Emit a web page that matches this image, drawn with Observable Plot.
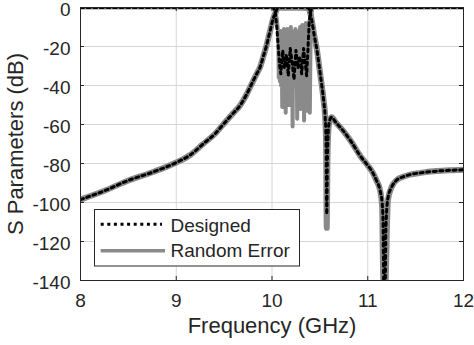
<!DOCTYPE html>
<html><head><meta charset="utf-8">
<script src="https://cdn.jsdelivr.net/npm/d3@7"></script>
<script src="https://cdn.jsdelivr.net/npm/@observablehq/plot@0.6"></script>
<style>
html,body{margin:0;padding:0;background:#fff;}
#chart{position:relative;width:474px;height:345px;}
</style>
</head><body><div id="chart"></div>
<script>
const xTicks = [8, 9, 10, 11, 12];
const yTicks = [-140, -120, -100, -80, -60, -40, -20, 0];
const xLabel = "Frequency (GHz)";
const yLabel = "S Parameters (dB)";
const seriesNames = ["Designed", "Random Error"];

// S21 (transmission)
const s21Freq = [8.0, 8.25, 8.5, 8.75, 9.0, 9.15, 9.28, 9.4, 9.49, 9.58, 9.67, 9.73, 9.78, 9.83, 9.88, 9.91, 9.94, 9.965, 9.99, 10.01, 10.035, 10.05, 10.07, 10.1, 10.2, 10.3, 10.38, 10.4, 10.42, 10.44, 10.47, 10.495, 10.52, 10.54, 10.555, 10.565, 10.572, 10.578, 10.59, 10.605, 10.624, 10.66, 10.74, 10.83, 10.92, 11.0, 11.05, 11.09, 11.13, 11.15, 11.16, 11.17, 11.18, 11.19, 11.21, 11.25, 11.3, 11.37, 11.44, 11.55, 11.72, 11.85, 12.0];
const s21Designed = [-98.5, -94, -88.7, -84.5, -79.5, -75.5, -70, -65, -60, -55, -50, -45, -40, -35, -30, -25, -20, -15, -10, -6, -3, -1, -0.1, 0, 0, 0, -0.2, -3, -8, -14, -22, -31, -40, -48, -56, -68, -106, -80, -62, -57.5, -56.3, -58.5, -63, -69, -76, -81, -84.5, -88.6, -94, -100, -110, -150, -150, -112, -98, -92, -88.6, -86.8, -85.7, -84.8, -83.9, -83.5, -83.2];
const s21Random = [-98.5, -94, -88.7, -84.5, -79.5, -75.5, -70, -65, -60, -55, -50, -45, -40, -35, -30, -25, -20, -15, -10, -6, -3, -1, -0.2, -0.1, -0.1, -0.1, -0.3, -3, -8, -14, -22, -31, -40, -48, -56, -70, -113, -82, -62, -57.5, -56.3, -58.5, -63, -69, -76, -81, -84.5, -88.6, -94, -102, -135, -150, -150, -135, -99, -92, -88.6, -86.8, -85.7, -84.8, -83.9, -83.5, -83.2];

// S11 (reflection)
const s11DesignedFreq = [8.0, 10.0, 10.02, 10.035, 10.05, 10.065, 10.08, 10.092, 10.112, 10.13, 10.15, 10.17, 10.19, 10.21, 10.23, 10.25, 10.27, 10.29, 10.31, 10.33, 10.35, 10.362, 10.375, 10.388, 10.4, 10.415, 10.43, 12.0];
const s11Designed = [0, 0, -0.5, -3, -10, -20, -30, -34, -22, -31, -24, -35, -21, -28, -37, -22, -31, -25, -34, -21, -30, -35, -22, -8, -2.5, -0.5, 0, 0];
const s11RandomFreq = [8.0, 10.02, 10.035, 10.05, 10.06, 10.065, 10.071, 10.077, 10.083, 10.089, 10.095, 10.101, 10.107, 10.113, 10.119, 10.125, 10.131, 10.137, 10.143, 10.149, 10.155, 10.161, 10.167, 10.173, 10.179, 10.185, 10.191, 10.197, 10.203, 10.209, 10.215, 10.221, 10.227, 10.233, 10.239, 10.245, 10.251, 10.257, 10.263, 10.269, 10.275, 10.281, 10.287, 10.293, 10.299, 10.305, 10.311, 10.317, 10.323, 10.329, 10.335, 10.341, 10.347, 10.353, 10.359, 10.365, 10.371, 10.377, 10.383, 10.389, 10.395, 10.402, 10.41, 10.42, 10.435, 12.0];
const s11Random = [0, 0, -2, -6, -11, -12, -36, -13, -38, -12, -40, -13, -51, -12, -38, -11, -40, -12, -54, -13, -37, -11, -39, -12, -50, -11, -38, -10, -41, -12, -61, -14, -39, -13, -37, -11, -40, -12, -57, -14, -36, -12, -39, -10, -52, -11, -38, -9, -40, -10, -58, -9, -37, -8, -53, -9, -36, -8, -38, -7, -54, -20, -4, -0.5, 0, 0];

const rows = (freqs, vals) => freqs.map((f, i) => ({f, db: vals[i]}));

const width = 474, height = 345;
const mT = 7, mR = 11, mB = 65, mL = 80;
const W = width - mL - mR, H = height - mT - mB;
const tickLen = 4;
const ink = "#262626";
const grayLine = "#8a8a8a";
const font = "'Liberation Sans', Arial, sans-serif";
const dash = "3,3.6";

const grayOpts = {x: "f", y: "db", stroke: grayLine, strokeWidth: 6, strokeLinejoin: "round", clip: true};
const dotOpts = {x: "f", y: "db", stroke: "#000", strokeWidth: 3, strokeDasharray: dash, clip: true};

const chart = Plot.plot({
  width, height,
  marginTop: mT, marginRight: mR, marginBottom: mB, marginLeft: mL,
  style: {fontFamily: font, color: ink, background: "#fff"},
  x: {domain: [8, 12]},
  y: {domain: [-140, 0]},
  marks: [
    Plot.gridX({ticks: xTicks, stroke: "#d6d6d6", strokeOpacity: 1}),
    Plot.gridY({ticks: yTicks, stroke: "#d6d6d6", strokeOpacity: 1}),
    Plot.line(rows(s21Freq, s21Random), {...grayOpts, curve: "monotone-x"}),
    Plot.line(rows(s11RandomFreq, s11Random), {...grayOpts, strokeWidth: 4}),
    Plot.line(rows(s21Freq, s21Designed), {...dotOpts, curve: "monotone-x"}),
    Plot.line(rows(s11DesignedFreq, s11Designed), dotOpts),
    Plot.frame({stroke: ink}),
    Plot.tickX(xTicks, {x: d => d, insetTop: H - tickLen, stroke: ink}),
    Plot.tickX(xTicks, {x: d => d, insetBottom: H - tickLen, stroke: ink}),
    Plot.tickY(yTicks, {y: d => d, insetRight: W - tickLen, stroke: ink}),
    Plot.tickY(yTicks, {y: d => d, insetLeft: W - tickLen, stroke: ink}),
    Plot.axisX({ticks: xTicks, tickSize: 0, tickPadding: 13, fontSize: 19, label: null, tickFormat: d => String(d)}),
    Plot.axisY({ticks: yTicks, tickSize: 0, tickPadding: 10, fontSize: 19, label: null, dy: 2, tickFormat: d => String(d)}),
    Plot.text([xLabel], {frameAnchor: "bottom", dy: 45, text: d => d, fontSize: 22, fill: ink, textAnchor: "middle", lineAnchor: "middle"}),
    Plot.text([yLabel], {frameAnchor: "left", dx: -65, rotate: -90, text: d => d, fontSize: 22, fill: ink, textAnchor: "middle", lineAnchor: "middle"})
  ]
});
document.getElementById("chart").appendChild(chart);

// Legend (inside the axes, lower left)
const svg = d3.select(chart);
const lg = svg.append("g").attr("class", "legend")
  .attr("font-family", font).attr("font-size", 19).attr("fill", ink).attr("text-anchor", "start");
lg.append("rect").attr("x", 94.5).attr("y", 209.5).attr("width", 205).attr("height", 56.5)
  .attr("fill", "#fff").attr("stroke", ink).attr("stroke-width", 1);
lg.append("line").attr("x1", 100.7).attr("x2", 162).attr("y1", 224.3).attr("y2", 224.3)
  .attr("stroke", "#000").attr("stroke-width", 3).attr("stroke-dasharray", dash);
lg.append("text").attr("x", 170.5).attr("y", 231.5).attr("text-anchor", "start").text(seriesNames[0]);
lg.append("line").attr("x1", 100.7).attr("x2", 165).attr("y1", 250.7).attr("y2", 250.7)
  .attr("stroke", grayLine).attr("stroke-width", 3.5);
lg.append("text").attr("x", 170.5).attr("y", 257).attr("text-anchor", "start").text(seriesNames[1]);
</script>
</body></html>
